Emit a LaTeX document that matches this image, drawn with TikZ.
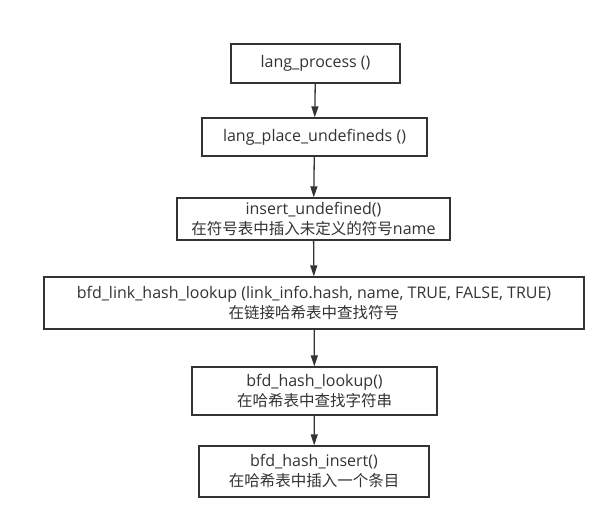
\documentclass[tikz,border=0pt]{standalone}
\usepackage{fontspec}
\setmainfont{Open Sans}
\newfontfamily\cjk{Noto Sans CJK SC}
\usetikzlibrary{arrows.meta}

\begin{document}
\begin{tikzpicture}[x=1pt,y=-1pt,
    callbox/.style={draw=black!80, line width=1.3pt, fill=white, text=black!80,
        inner sep=0pt, align=center, font=\fontsize{16}{20}\selectfont},
    callarrow/.style={draw=black!80, line width=1.3pt, -{Triangle[width=7pt,length=11pt]}}]
                \useasboundingbox (0,0) rectangle (614,527);
                \node[callbox, minimum width=169pt, minimum height=39pt] (process) at (315.5, 63.5) {lang\_process ()};
                \node[callbox, minimum width=225pt, minimum height=38pt] (place) at (314.5, 137) {lang\_place\_undefineds ()};
                \node[callbox, minimum width=273pt, minimum height=42pt] (insundef) at (313.5, 219) {insert\_undefined()\\{\cjk\fontsize{15.5}{20}\selectfont 在符号表中插入未定义的符号}name};
                \node[callbox, minimum width=540pt, minimum height=52pt] (linklookup) at (314, 303) {bfd\_link\_hash\_lookup (link\_info.hash, name, TRUE, FALSE, TRUE)\\{\cjk\fontsize{15.5}{20}\selectfont 在链接哈希表中查找符号}};
                \node[callbox, minimum width=245pt, minimum height=48pt] (hashlookup) at (314.5, 391) {bfd\_hash\_lookup()\\{\cjk\fontsize{15.5}{20}\selectfont 在哈希表中查找字符串}};
                \node[callbox, minimum width=230pt, minimum height=51pt] (hashinsert) at (314, 471.5) {bfd\_hash\_insert()\\{\cjk\fontsize{15.5}{20}\selectfont 在哈希表中插入一个条目}};
                \draw[callarrow] (process) -- (place);
                \draw[callarrow] (place) -- (insundef);
                \draw[callarrow] (insundef) -- (linklookup);
                \draw[callarrow] (linklookup) -- (hashlookup);
                \draw[callarrow] (hashlookup) -- (hashinsert);
            \end{tikzpicture}
\end{document}
